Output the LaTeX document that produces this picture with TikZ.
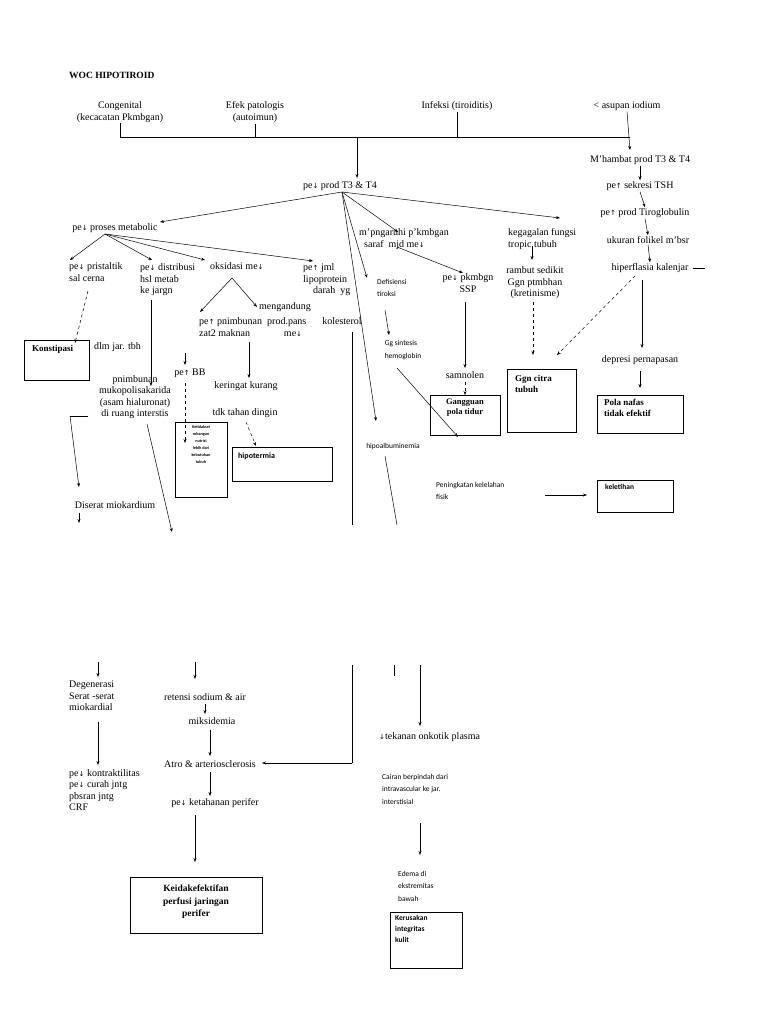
\documentclass[tikz,border=0pt]{standalone}
\usepackage{fontspec}
\setmainfont{Liberation Serif}
\newfontfamily\sans{Carlito}
\newfontfamily\arrf{DejaVu Sans}
\newcommand{\dn}{{\arrf\scriptsize ↓}}
\newcommand{\up}{{\arrf\scriptsize ↑}}
\usetikzlibrary{arrows.meta}
\begin{document}
\begin{tikzpicture}[x=1pt,y=-1pt,
 t/.style={font=\fontsize{10}{11.5}\selectfont,inner sep=1pt,align=center},
 tl/.style={t,align=left},
 s/.style={font=\sans\fontsize{7.5}{12.5}\selectfont,inner sep=1pt,align=left},
 box/.style={draw,line width=0.6pt},
 a/.style={-{Stealth[length=4pt,width=3pt]},line width=0.5pt},
 d/.style={a,dashed},
 ln/.style={line width=0.5pt}]
\useasboundingbox (0,0) rectangle (768,1024);
\node[t,anchor=west,font=\bfseries\fontsize{9.5}{10}\selectfont] (title) at (68,75) {WOC HIPOTIROID};
\node[t] (cong) at (120,112) {Congenital\\(kecacatan Pkmbgan)};
\node[t] (efek) at (255,112) {Efek patologis\\(autoimun)};
\node[t] (inf) at (457,106) {Infeksi (tiroiditis)};
\node[t] (asup) at (627,106) {< asupan iodium};
\coordinate (c1) at (120,137); \coordinate (c4) at (630,137);
\draw[ln] (cong.south) -- (c1) -- (c4);
\draw[ln] (efek.south) -- (255,137);
\draw[ln] (inf.south) -- (457,137);
\draw[a] (asup.south) -- (630,150);
\node[t] (mham) at (640,160) {M'hambat prod T3 \& T4};
\node[t] (prod) at (340,186) {pe\dn{} prod T3 \& T4};
\draw[a] (357,137) -- (357,178);
\node[t] (tsh) at (640,186) {pe\up{} sekresi TSH};
\node[t] (tiro) at (645,213) {pe\up{} prod Tiroglobulin};
\node[t] (ukur) at (648,240) {ukuran folikel m'bsr};
\node[t] (hiper) at (650,268) {hiperflasia kalenjar};
\draw[ln] (hiper.east) ++(3,0) -- ++(12,0);
\draw[a] (mham.south) -- (tsh.north);
\draw[a] (tsh.south) -- (tiro.north);
\draw[a] (tiro.south) -- (ukur.north);
\draw[a] (ukur.south) -- (hiper.north);
% level 2
\node[t] (proses) at (115,228) {pe\dn{} proses metabolic};
\node[tl,anchor=west] (mpeng) at (358,239) {m'pngaruhi p'kmbgan\\\ \ saraf\ \ mjd me\dn};
\node[tl,anchor=west] (keg) at (507,239) {kegagalan fungsi\\tropic tubuh};
\node[s,anchor=west] (def) at (376,288) {Defisiensi\\tiroksi};
\node[s] (hipo) at (393,446) {hipoalbuminemia};
\draw[a] (342,192) -- (160,222);
\draw[a] (342,192) -- (398,232);
\draw[a] (342,192) -- (560,218);
\draw[a] (342,192) -- (367,278);
\draw[a] (342,192) -- (376,421);
% metabolic children
\node[tl,anchor=west] (prist) at (68,272) {pe\dn{} pristaltik\\sal cerna};
\node[tl,anchor=west] (dist) at (139,280) {pe\dn{} distribusi\\hsl metab\\ke jargn};
\node[t,anchor=west] (oks) at (209,266) {oksidasi me\dn};
\node[tl,anchor=west] (lipo) at (302,280) {pe\up{} jml\\lipoprotein\\\ \ \ \ darah\ \ yg};
\node[t] (kol) at (342,321) {kolesterol};
\draw[a] (105,234) -- (70,260);
\draw[a] (105,234) -- (152,260);
\draw[a] (105,234) -- (205,260);
\draw[a] (105,234) -- (313,261);
\node[tl,anchor=west] (pnimb) at (198,327) {pe\up{} pnimbunan\\zat2 maknan};
\node[t,anchor=west] (meng) at (258,307) {mengandung};
\node[t,anchor=west] (pans) at (266,327) {prod.pans\\\ \ \ \ \ me\dn};
\draw[a] (232,278) -- (200,312);
\draw[a] (232,278) -- (257,307);
\node[t,anchor=west] (dlm) at (93,347) {dlm jar. tbh};
\node[box,minimum width=65pt,minimum height=40pt] (kons) at (57,360) {};
\node[t,anchor=north west,font=\bfseries\fontsize{9}{10}\selectfont] at (31,344) {Konstipasi};
\draw[d] (88,291) -- (75,343);
\node[t] (muko) at (135,397) {pnimbunan\\mukopolisakarida\\(asam hialuronat)\\di ruang interstis};
\draw[a] (151,300) -- (151,386);
\node[t] (bb) at (190,373) {pe\up{} BB};
\draw[a] (185,353) -- (185,365);
\node[box,minimum width=52pt,minimum height=75pt] (ket) at (201,460) {};
\node[font=\sans\bfseries\fontsize{4.2}{7}\selectfont,align=center] at (201,445) {Ketidaksei\\mbangan\\nutrisi\\lebih dari\\kebutuhan\\tubuh};
\draw[d] (185,383) -- (185,443);
\draw[a] (249,342) -- (249,378);
\node[t] (ker) at (246,386) {keringat kurang};
\node[t] (tdk) at (245,413) {tdk tahan dingin};
\node[box,minimum width=100pt,minimum height=34pt] (hipt) at (282,464) {};
\node[s,font=\sans\bfseries\fontsize{8}{9}\selectfont,anchor=north west] at (237,452) {hipotermia};
\draw[d] (246,422) -- (256,446);
\draw[ln] (352,332) -- (352,525);
\draw[ln] (88,416) -- (70,416);
\draw[a] (70,416) -- (79,487);
\node[t] (dis) at (115,505) {Diserat miokardium};
\draw[a] (79,513) -- (79,523);
\draw[a] (147,424) -- (172,532);
% right branch
\draw[a] (385,310) -- (389,335);
\node[s] (gg) at (403,350) {Gg sintesis\\hemoglobin};
\draw[a] (397,368) -- (458,437);
\node[s,anchor=west] (pen) at (435,491) {Peningkatan kelelahan\\fisik};
\draw[a] (545,495) -- (587,495);
\node[box,minimum width=76pt,minimum height=32pt] (letih) at (635,496) {};
\node[s,font=\sans\bfseries\fontsize{7.5}{9}\selectfont,anchor=north west] at (604,483) {keletihan};
\draw[ln] (385,456) -- (397,525);
\draw[a] (397,247) -- (463,273);
\node[t] (ssp) at (468,283) {pe\dn{} pkmbgn\\SSP};
\draw[a] (465,302) -- (465,368);
\node[t] (samn) at (465,375) {samnolen};
\draw[d] (465,382) -- (465,395);
\node[box,minimum width=70pt,minimum height=40pt] (gpt) at (465,415) {};
\node[t,font=\bfseries\fontsize{8.5}{10}\selectfont,align=center] at (465,408) {Gangguan\\pola tidur};
\draw[a] (532,246) -- (532,260);
\node[t] (ramb) at (535,283) {rambut sedikit\\Ggn ptmbhan\\(kretinisme)};
\draw[d] (533,302) -- (533,355);
\draw[d] (635,276) -- (557,355);
\node[box,minimum width=69pt,minimum height=63pt] (citra) at (542,401) {};
\node[tl,font=\bfseries\fontsize{9}{11}\selectfont,anchor=north west] at (514,374) {Ggn citra\\tubuh};
\draw[a] (642,280) -- (642,348);
\node[t] (dep) at (640,360) {depresi pernapasan};
\draw[a] (640,371) -- (640,388);
\node[box,minimum width=86pt,minimum height=38pt] (pola) at (640,414) {};
\node[tl,font=\bfseries\fontsize{9}{11}\selectfont,anchor=north west] at (603,398) {Pola nafas\\tidak efektif};
% lower part
\draw[a] (98,662) -- (98,677);
\node[tl,anchor=north west] (deg) at (68,680) {Degenerasi\\Serat -serat\\miokardial};
\draw[a] (98,722) -- (98,765);
\node[tl,anchor=north west] (kon) at (68,768) {pe\dn{} kontraktilitas\\pe\dn{} curah jntg\\pbsran jntg\\CRF};
\draw[a] (195,662) -- (195,679);
\node[t] (ret) at (205,697) {retensi sodium \& air};
\draw[a] (205,704) -- (205,714);
\node[t] (miks) at (212,721) {miksidemia};
\draw[a] (210,730) -- (210,756);
\node[t] (atro) at (210,764) {Atro \& arteriosclerosis};
\draw[a] (210,772) -- (210,796);
\node[t] (ket2) at (215,803) {pe\dn{} ketahanan perifer};
\draw[a] (195,815) -- (195,862);
\node[box,minimum width=132pt,minimum height=56pt] (perf) at (196,905) {};
\node[t,font=\bfseries\fontsize{9.5}{12.5}\selectfont] at (196,902) {Keidakefektifan\\perfusi jaringan\\perifer};
\draw[ln] (352,665) -- (352,763);
\draw[a] (352,763) -- (262,763);
\draw[ln] (394,665) -- (394,676);
\draw[a] (420,665) -- (420,726);
\node[t,anchor=west] (onk) at (378,737) {\dn tekanan onkotik plasma};
\node[s,anchor=north west] (cair) at (381,773) {Cairan berpindah dari\\intravascular ke jar.\\interstisial};
\draw[a] (420,823) -- (420,855);
\node[s,anchor=north west] (edema) at (397,870) {Edema di\\ekstremitas\\bawah};
\node[box,minimum width=72pt,minimum height=56pt] (kulit) at (426,940) {};
\node[s,font=\sans\bfseries\fontsize{7.5}{11}\selectfont,anchor=north west] at (394,914) {Kerusakan\\integritas\\kulit};
\end{tikzpicture}
\end{document}
